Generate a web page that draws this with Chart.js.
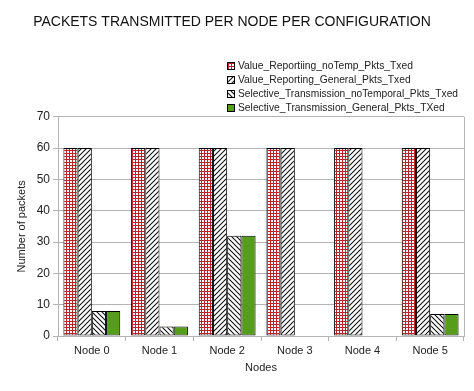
<!DOCTYPE html>
<html>
<head>
<meta charset="utf-8">
<script src="https://cdn.jsdelivr.net/npm/chart.js@4"></script>
<style>
  html, body { margin: 0; padding: 0; background: #fff; }
  #wrap { width: 474px; height: 391px; }
</style>
</head>
<body>
<div id="wrap"><canvas id="chart"></canvas></div>
<script>
const nodes = ['Node 0', 'Node 1', 'Node 2', 'Node 3', 'Node 4', 'Node 5'];
const vrNoTemp = [60, 60, 60, 60, 60, 60];
const vrGeneral = [60, 60, 60, 60, 60, 60];
const stNoTemporal = [8, 3, 32, 0, 0, 7];
const stGeneral = [8, 3, 32, 0, 0, 7];
const yTicks = [0, 10, 20, 30, 40, 50, 60, 70];

// little tiles used as fill patterns
function makeTile(size, draw) {
  const c = document.createElement('canvas');
  c.width = size; c.height = size;
  const g = c.getContext('2d');
  g.fillStyle = '#fff';
  g.fillRect(0, 0, size, size);
  draw(g, size);
  return document.createElement('canvas').getContext('2d').createPattern(c, 'repeat');
}

const redGrid = makeTile(3, (g) => {
  g.fillStyle = '#b8242a';
  g.fillRect(0, 0, 3, 1);
  g.fillRect(0, 0, 1, 3);
});

function hatch(dir) {
  return makeTile(5, (g, s) => {
    g.strokeStyle = '#111';
    g.lineWidth = 1.1;
    for (let k = -1; k <= 1; k++) {
      g.beginPath();
      if (dir > 0) {
        g.moveTo(k * s - 1, s + 1);
        g.lineTo(k * s + s + 1, -1);
      } else {
        g.moveTo(k * s - 1, -1);
        g.lineTo(k * s + s + 1, s + 1);
      }
      g.stroke();
    }
  });
}

const fontFam = '"Liberation Sans", Arial, sans-serif';

// legend drawn as a vertical list to the right under the title
const listLegend = {
  id: 'listLegend',
  afterDraw(chart) {
    const ctx = chart.ctx;
    ctx.save();
    ctx.font = '10.3px ' + fontFam;
    ctx.textBaseline = 'middle';
    ctx.textAlign = 'left';
    chart.data.datasets.forEach((ds, i) => {
      const y = 66 + i * 14;
      ctx.fillStyle = ds.backgroundColor;
      ctx.fillRect(227.5, y - 3.5, 7, 7);
      ctx.strokeStyle = '#000';
      ctx.lineWidth = 1;
      ctx.strokeRect(227.5, y - 3.5, 7, 7);
      ctx.fillStyle = '#222';
      ctx.fillText(ds.label, 238, y + 0.5, 220);
    });
    ctx.restore();
  }
};

// right edge of plot frame
const frame = {
  id: 'frame',
  beforeDatasetsDraw(chart) {
    const a = chart.chartArea;
    const ctx = chart.ctx;
    ctx.save();
    ctx.strokeStyle = '#b3b3b3';
    ctx.lineWidth = 1;
    ctx.beginPath();
    ctx.moveTo(Math.round(a.right) + 0.5, a.top);
    ctx.lineTo(Math.round(a.right) + 0.5, a.bottom);
    ctx.stroke();
    ctx.restore();
  }
};

const common = {
  borderColor: '#000',
  borderWidth: 1,
  borderSkipped: false,
  barPercentage: 1,
  categoryPercentage: 0.84
};

new Chart(document.getElementById('chart'), {
  type: 'bar',
  data: {
    labels: nodes,
    datasets: [
      Object.assign({ label: 'Value_Reportiing_noTemp_Pkts_Txed', data: vrNoTemp, backgroundColor: redGrid }, common),
      Object.assign({ label: 'Value_Reporting_General_Pkts_Txed', data: vrGeneral, backgroundColor: hatch(1) }, common),
      Object.assign({ label: 'Selective_Transmission_noTemporal_Pkts_Txed', data: stNoTemporal, backgroundColor: hatch(-1) }, common),
      Object.assign({ label: 'Selective_Transmission_General_Pkts_TXed', data: stGeneral, backgroundColor: '#579d1c' }, common)
    ]
  },
  options: {
    responsive: true,
    maintainAspectRatio: false,
    animation: false,
    layout: { padding: { left: 0, right: 10, top: 0, bottom: 0 } },
    plugins: {
      legend: { display: false },
      tooltip: { enabled: false },
      title: {
        display: true,
        text: 'PACKETS TRANSMITTED PER NODE PER CONFIGURATION',
        color: '#111',
        font: { family: fontFam, size: 14, weight: 'normal', lineHeight: 1.2 },
        padding: { top: 14, bottom: 86 }
      }
    },
    scales: {
      x: {
        grid: { display: true, drawOnChartArea: false, offset: true, tickLength: 5, color: '#b3b3b3' },
        border: { display: true, color: '#b3b3b3' },
        ticks: { color: '#222', font: { family: fontFam, size: 11 }, padding: 3, maxRotation: 0 },
        title: {
          display: true, text: 'Nodes', color: '#222',
          font: { family: fontFam, size: 11 },
          padding: { top: 0, bottom: 16 }
        },
        afterFit(s) { s.height = 55; }
      },
      y: {
        min: 0, max: 70,
        afterBuildTicks(s) { s.ticks = yTicks.map(v => ({ value: v })); },
        grid: { color: '#b3b3b3', tickLength: 5 },
        border: { display: true, color: '#b3b3b3' },
        ticks: { color: '#222', font: { family: fontFam, size: 12 }, padding: 3 },
        title: {
          display: true, text: 'Number of packets', color: '#222',
          font: { family: fontFam, size: 11 },
          padding: { top: 15, bottom: 0 }
        },
        afterFit(s) { s.width = 58; }
      }
    }
  },
  plugins: [listLegend, frame]
});
</script>
</body>
</html>
